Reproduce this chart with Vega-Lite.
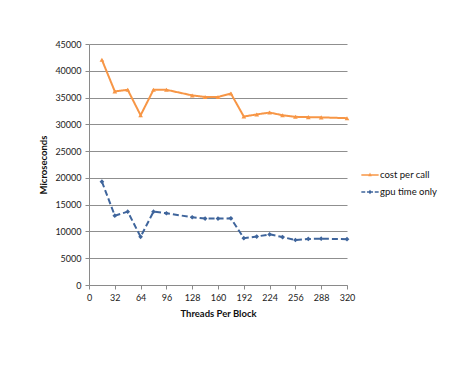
{
  "$schema": "https://vega.github.io/schema/vega-lite/v6.json",
  "autosize": "none",
  "width": 258,
  "height": 241,
  "padding": {"left": 89, "top": 44, "right": 127, "bottom": 81},
  "background": "white",
  "config": {
    "font": "Lato",
    "view": {"stroke": null},
    "axis": {
      "labelFont": "Lato", "labelFontSize": 9, "labelColor": "#222",
      "titleFont": "Lato", "titleFontSize": 9.5, "titleFontWeight": "bold", "titleColor": "#111",
      "domainColor": "#8a8a8a", "tickColor": "#8a8a8a", "gridColor": "#8f8f8f", "tickSize": 4
    }
  },
  "data": {
    "values": [
      {"threads": 16, "series": "cost per call", "us": 42050},
      {"threads": 32, "series": "cost per call", "us": 36150},
      {"threads": 48, "series": "cost per call", "us": 36450},
      {"threads": 64, "series": "cost per call", "us": 31700},
      {"threads": 80, "series": "cost per call", "us": 36450},
      {"threads": 96, "series": "cost per call", "us": 36450},
      {"threads": 128, "series": "cost per call", "us": 35400},
      {"threads": 144, "series": "cost per call", "us": 35100},
      {"threads": 160, "series": "cost per call", "us": 35100},
      {"threads": 176, "series": "cost per call", "us": 35750},
      {"threads": 192, "series": "cost per call", "us": 31450},
      {"threads": 208, "series": "cost per call", "us": 31850},
      {"threads": 224, "series": "cost per call", "us": 32200},
      {"threads": 240, "series": "cost per call", "us": 31700},
      {"threads": 256, "series": "cost per call", "us": 31400},
      {"threads": 272, "series": "cost per call", "us": 31350},
      {"threads": 288, "series": "cost per call", "us": 31300},
      {"threads": 320, "series": "cost per call", "us": 31150},
      {"threads": 16, "series": "gpu time only", "us": 19300},
      {"threads": 32, "series": "gpu time only", "us": 12950},
      {"threads": 48, "series": "gpu time only", "us": 13700},
      {"threads": 64, "series": "gpu time only", "us": 9000},
      {"threads": 80, "series": "gpu time only", "us": 13700},
      {"threads": 96, "series": "gpu time only", "us": 13400},
      {"threads": 128, "series": "gpu time only", "us": 12650},
      {"threads": 144, "series": "gpu time only", "us": 12400},
      {"threads": 160, "series": "gpu time only", "us": 12400},
      {"threads": 176, "series": "gpu time only", "us": 12450},
      {"threads": 192, "series": "gpu time only", "us": 8750},
      {"threads": 208, "series": "gpu time only", "us": 9050},
      {"threads": 224, "series": "gpu time only", "us": 9450},
      {"threads": 240, "series": "gpu time only", "us": 8950},
      {"threads": 256, "series": "gpu time only", "us": 8400},
      {"threads": 272, "series": "gpu time only", "us": 8600},
      {"threads": 288, "series": "gpu time only", "us": 8650},
      {"threads": 320, "series": "gpu time only", "us": 8550}
    ]
  },
  "encoding": {
    "x": {
      "field": "threads", "type": "quantitative", "title": "Threads Per Block",
      "scale": {"domain": [0, 320], "nice": false},
      "axis": {"values": [0, 32, 64, 96, 128, 160, 192, 224, 256, 288, 320], "grid": false, "labelFlush": false, "labelOverlap": false, "labelPadding": 4, "titlePadding": 6}
    },
    "y": {
      "field": "us", "type": "quantitative", "title": "Microseconds",
      "scale": {"domain": [0, 45000], "nice": false},
      "axis": {"values": [0, 5000, 10000, 15000, 20000, 25000, 30000, 35000, 40000, 45000], "format": "d", "grid": true, "labelPadding": 4, "titlePadding": 6}
    },
    "color": {
      "field": "series", "type": "nominal",
      "scale": {"domain": ["cost per call", "gpu time only"], "range": ["#F79646", "#3F659C"]},
      "legend": {
        "title": null, "orient": "none", "legendX": 272, "legendY": 122,
        "labelFont": "Lato", "labelFontSize": 9.5, "labelColor": "#111",
        "symbolSize": 300, "symbolStrokeWidth": 0, "rowPadding": 3, "labelOffset": 1,
        "encode": {
          "symbols": {
            "update": {
              "shape": {"signal": "datum.value === 'cost per call' ? 'M-1,-0.1L1,-0.1L1,0.1L-1,0.1Z M0,-0.3L0.2,0.15L-0.2,0.15Z' : 'M-1,-0.09L-0.55,-0.09L-0.55,0.09L-1,0.09Z M-0.35,-0.09L0.35,-0.09L0.35,0.09L-0.35,0.09Z M0.55,-0.09L1,-0.09L1,0.09L0.55,0.09Z M0,-0.25L0.2,0L0,0.25L-0.2,0Z'"},
              "fill": {"signal": "datum.value === 'cost per call' ? '#F79646' : '#3F659C'"},
              "opacity": {"value": 1}
            }
          }
        }
      }
    }
  },
  "layer": [
    {
      "mark": {"type": "line", "strokeWidth": 2},
      "encoding": {
        "strokeDash": {
          "field": "series", "type": "nominal",
          "scale": {"domain": ["cost per call", "gpu time only"], "range": [[1, 0], [6, 3]]},
          "legend": null
        }
      }
    },
    {
      "transform": [{"filter": "datum.series === 'cost per call'"}],
      "mark": {"type": "point", "filled": true, "size": 22, "opacity": 1, "shape": "triangle-up"}
    },
    {
      "transform": [{"filter": "datum.series === 'gpu time only'"}],
      "mark": {"type": "point", "filled": true, "size": 22, "opacity": 1, "shape": "diamond"}
    }
  ]
}
